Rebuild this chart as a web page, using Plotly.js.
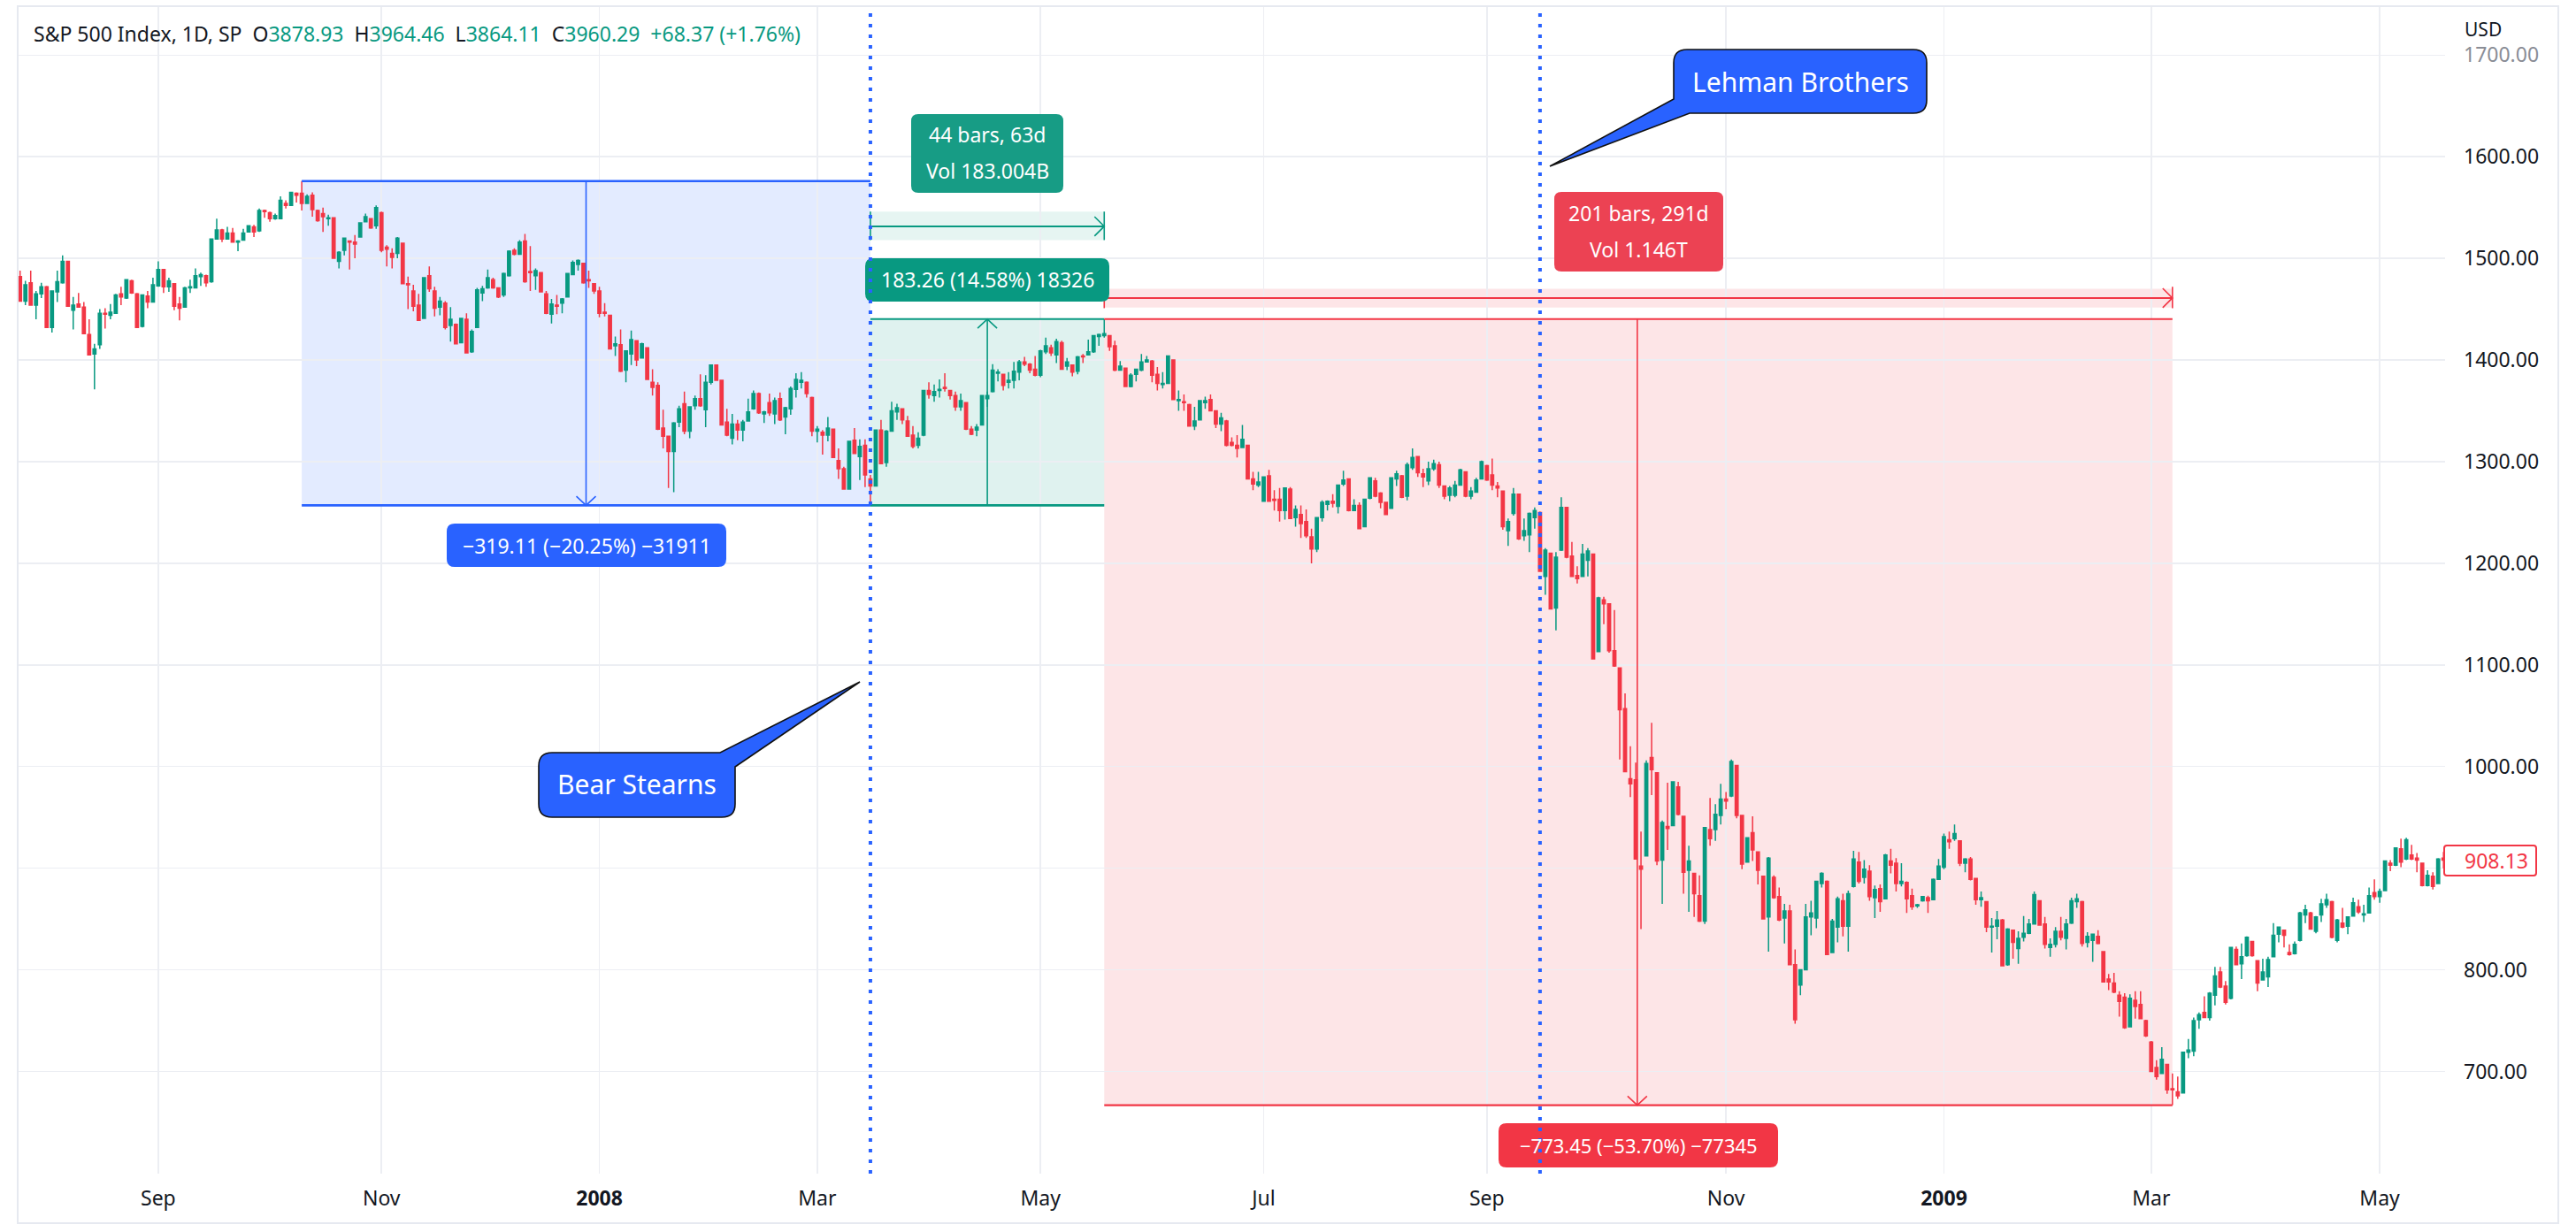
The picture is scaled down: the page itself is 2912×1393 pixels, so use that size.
<!DOCTYPE html>
<html><head><meta charset="utf-8">
<script src="https://cdn.plot.ly/plotly-3.0.1.min.js"></script>
<style>html,body{margin:0;padding:0;background:#fff}#chart{width:2912px;height:1393px}</style>
</head><body><div id="chart"></div>
<script>
const openPrice = [
1482,1458,1476,1454,1465,1472,1432,1467,1476,1497,
1449,1455,1452,1425,1406,1415,1446,1444,1446,1465,
1461,1478,1465,1433,1463,1457,1473,1489,1472,1475,
1455,1452,1471,1471,1482,1483,1477,1519,1528,1519,
1525,1516,1518,1526,1531,1527,1547,1545,1539,1539,
1554,1552,1564,1564,1554,1562,1547,1544,1539,1540,
1497,1508,1517,1516,1521,1536,1539,1532,1545,1511,
1505,1505,1515,1475,1468,1454,1441,1483,1468,1452,
1456,1434,1435,1417,1440,1408,1432,1466,1471,1479,
1471,1464,1483,1508,1504,1517,1487,1483,1486,1465,
1445,1454,1456,1462,1484,1494,1495,1479,1475,1468,
1447,1444,1414,1415,1390,1406,1419,1402,1412,1378,
1375,1333,1325,1310,1339,1357,1330,1355,1362,1351,
1378,1395,1380,1339,1323,1337,1331,1340,1352,1367,
1347,1358,1347,1362,1344,1352,1371,1378,1378,1363,
1330,1329,1326,1332,1301,1293,1273,1321,1305,1316,
1283,1276,1331,1299,1330,1349,1352,1340,1326,1316,
1326,1370,1365,1370,1373,1370,1365,1354,1358,1332,
1331,1336,1362,1369,1387,1386,1378,1380,1388,1398,
1396,1391,1385,1408,1412,1405,1417,1394,1395,1389,
1404,1405,1408,1423,1424,1424,1414,1390,1392,1374,
1386,1390,1398,1399,1386,1376,1377,1400,1360,1359,
1356,1335,1341,1358,1361,1350,1337,1340,1319,1316,
1314,1316,1283,1277,1261,1286,1263,1263,1252,1273,
1245,1248,1241,1226,1214,1245,1258,1261,1256,1278,
1283,1252,1257,1236,1264,1281,1269,1260,1254,1283,
1286,1266,1294,1305,1288,1281,1293,1297,1276,1267,
1267,1277,1290,1266,1270,1283,1296,1287,1276,1271,
1232,1249,1268,1227,1228,1245,1250,1187,1210,1156,
1213,1255,1207,1188,1187,1203,1209,1113,1164,1160,
1114,1097,1057,988,987,902,912,1009,994,908,
941,942,980,951,898,895,873,848,938,938,
952,968,971,1001,952,906,935,916,892,852,
891,872,851,858,805,785,800,852,851,885,
887,817,842,868,843,882,906,891,897,871,
880,870,907,905,885,886,873,863,868,871,
869,889,901,928,929,927,905,909,890,869,
867,842,843,849,805,839,821,832,836,845,
868,845,822,825,838,831,846,867,867,827,
829,833,818,791,787,775,773,744,770,766,
750,729,704,698,707,683,680,679,719,720,
751,758,753,775,798,784,772,820,806,814,
828,809,790,793,813,835,839,817,816,829,
854,856,838,854,864,867,829,846,843,853,
862,854,856,876,872,878,905,903,919,909,
913,910,905,883,892,885,910];
const highPrice = [
1488,1478,1488,1468,1476,1473,1468,1488,1503,1497,
1462,1466,1457,1440,1416,1450,1451,1455,1465,1472,
1479,1479,1466,1464,1468,1481,1497,1489,1481,1475,
1462,1472,1479,1490,1486,1484,1519,1539,1529,1531,
1530,1518,1529,1532,1533,1549,1548,1546,1544,1561,
1557,1565,1565,1576,1563,1565,1548,1550,1543,1540,
1507,1520,1517,1523,1535,1544,1539,1552,1546,1513,
1510,1521,1515,1482,1474,1465,1481,1492,1472,1462,
1458,1452,1436,1441,1446,1430,1471,1473,1489,1481,
1471,1486,1508,1510,1518,1524,1512,1490,1486,1468,
1460,1464,1461,1485,1498,1499,1495,1488,1475,1472,
1456,1444,1423,1430,1409,1429,1419,1417,1412,1391,
1378,1351,1325,1339,1355,1369,1354,1365,1386,1385,
1395,1395,1380,1352,1347,1341,1341,1362,1370,1368,
1350,1367,1363,1368,1354,1374,1387,1388,1379,1364,
1335,1331,1344,1332,1313,1295,1320,1333,1322,1322,
1287,1331,1341,1331,1359,1357,1352,1345,1335,1329,
1370,1378,1376,1381,1387,1370,1369,1367,1358,1335,
1337,1365,1369,1396,1391,1386,1388,1398,1400,1403,
1397,1404,1410,1422,1415,1421,1419,1402,1395,1404,
1406,1420,1424,1426,1440,1424,1419,1399,1392,1387,
1391,1406,1404,1400,1393,1388,1404,1400,1370,1366,
1357,1354,1360,1364,1366,1350,1348,1341,1324,1326,
1336,1316,1290,1290,1285,1292,1272,1274,1274,1275,
1257,1257,1253,1234,1245,1262,1262,1268,1277,1291,
1283,1263,1260,1263,1284,1284,1270,1260,1284,1291,
1287,1299,1313,1305,1293,1300,1302,1300,1276,1276,
1281,1293,1290,1275,1284,1301,1297,1303,1280,1271,
1244,1274,1268,1244,1250,1255,1251,1215,1210,1211,
1265,1255,1221,1197,1219,1215,1209,1167,1167,1160,
1154,1097,1072,1020,1004,936,1006,1043,994,947,
984,985,985,951,922,895,893,940,969,963,
983,975,1007,1001,952,930,951,916,892,911,
893,881,865,864,820,800,865,868,887,896,
888,850,872,875,878,917,916,908,903,883,
884,914,919,910,905,887,880,865,872,873,
890,909,934,936,943,927,910,911,890,877,
867,851,858,850,841,839,838,853,850,877,
868,852,831,842,852,850,871,875,868,837,
835,839,818,796,797,779,777,776,779,779,
751,730,711,724,707,698,695,719,732,753,
758,774,778,803,803,789,822,823,826,833,
828,809,811,813,846,842,839,825,828,857,
864,857,853,870,875,868,850,861,852,871,
869,864,881,889,880,907,908,920,929,930,
923,915,905,898,896,910,916];
const lowPrice = [
1458,1454,1454,1440,1461,1432,1427,1457,1475,1453,
1430,1452,1426,1405,1371,1411,1431,1440,1446,1454,
1460,1465,1432,1432,1451,1457,1472,1466,1467,1449,
1439,1452,1466,1471,1473,1472,1476,1519,1516,1519,
1516,1507,1518,1526,1521,1526,1540,1536,1538,1539,
1549,1552,1555,1547,1554,1541,1536,1526,1532,1500,
1490,1503,1489,1500,1521,1536,1529,1529,1506,1492,
1490,1500,1475,1450,1448,1439,1441,1467,1443,1444,
1430,1418,1416,1417,1407,1407,1432,1458,1470,1470,
1461,1462,1482,1503,1504,1476,1468,1469,1467,1445,
1436,1445,1446,1462,1484,1488,1475,1471,1465,1442,
1443,1411,1404,1388,1378,1395,1394,1402,1381,1365,
1331,1313,1274,1270,1334,1327,1323,1351,1354,1334,
1376,1380,1336,1325,1317,1321,1320,1340,1351,1347,
1338,1345,1337,1340,1327,1346,1363,1372,1363,1325,
1319,1307,1320,1304,1283,1273,1273,1308,1282,1275,
1257,1276,1298,1295,1330,1341,1337,1325,1313,1313,
1325,1362,1359,1363,1369,1361,1350,1350,1331,1326,
1325,1336,1354,1368,1379,1370,1372,1372,1380,1394,
1387,1384,1383,1406,1404,1397,1391,1390,1384,1386,
1397,1405,1407,1414,1422,1409,1389,1390,1374,1373,
1379,1389,1398,1378,1370,1372,1377,1361,1350,1350,
1335,1331,1341,1352,1350,1333,1330,1315,1315,1304,
1314,1283,1272,1275,1261,1261,1252,1241,1243,1244,
1236,1225,1225,1200,1211,1241,1252,1255,1249,1276,
1251,1252,1234,1236,1263,1265,1254,1248,1254,1276,
1264,1262,1292,1285,1275,1277,1291,1274,1263,1261,
1265,1277,1265,1263,1270,1283,1281,1272,1265,1233,
1217,1247,1223,1222,1211,1234,1192,1169,1155,1134,
1212,1205,1187,1180,1187,1187,1106,1113,1140,1112,
1098,1007,995,970,909,840,912,972,903,865,
918,942,952,875,857,852,847,845,922,927,
943,958,970,949,899,906,907,884,850,818,
870,848,826,805,747,775,800,834,841,881,
815,817,827,833,818,881,885,885,868,851,
857,870,895,877,882,856,859,861,867,856,
869,889,899,919,927,902,896,888,864,862,
837,817,830,804,804,811,806,828,835,845,
844,821,813,822,829,820,845,861,823,822,
808,825,788,780,777,754,742,744,752,752,
734,700,692,698,678,667,673,679,713,715,
742,753,750,765,782,766,771,805,791,813,
813,779,790,783,813,827,822,814,815,828,
846,840,836,847,861,831,827,841,835,853,
855,847,856,869,866,878,897,902,901,908,
908,896,882,882,879,885,900];
const closePrice = [
1458,1474,1454,1465,1472,1432,1468,1477,1497,1453,
1454,1452,1426,1405,1411,1446,1445,1447,1464,1462,
1479,1466,1432,1464,1457,1474,1489,1472,1478,1453,
1451,1471,1472,1483,1484,1476,1519,1528,1519,1525,
1516,1517,1525,1532,1526,1547,1546,1539,1542,1557,
1552,1565,1562,1554,1561,1548,1537,1541,1540,1500,
1506,1520,1516,1514,1535,1541,1530,1550,1508,1509,
1501,1520,1475,1474,1453,1439,1481,1470,1451,1458,
1432,1440,1416,1441,1407,1428,1469,1470,1481,1471,
1462,1485,1507,1504,1516,1477,1486,1488,1467,1446,
1455,1453,1460,1485,1496,1498,1476,1478,1468,1446,
1446,1411,1416,1389,1409,1420,1400,1416,1381,1373,
1332,1325,1310,1338,1352,1330,1354,1362,1355,1378,
1395,1380,1336,1326,1337,1331,1339,1349,1367,1348,
1349,1348,1360,1341,1353,1372,1381,1380,1367,1330,
1332,1326,1333,1304,1293,1273,1320,1308,1315,1287,
1276,1331,1298,1330,1350,1353,1341,1325,1315,1323,
1370,1366,1369,1371,1372,1365,1354,1360,1332,1327,
1334,1365,1365,1390,1388,1375,1380,1389,1398,1396,
1390,1385,1409,1414,1407,1418,1391,1398,1388,1403,
1403,1408,1424,1425,1426,1413,1390,1394,1374,1385,
1391,1398,1400,1385,1377,1377,1404,1361,1361,1358,
1335,1340,1360,1360,1350,1337,1343,1316,1316,1313,
1322,1283,1278,1280,1285,1261,1262,1252,1274,1244,
1253,1239,1227,1214,1245,1260,1261,1259,1277,1282,
1252,1257,1234,1263,1284,1266,1260,1248,1284,1288,
1265,1297,1304,1289,1285,1293,1298,1277,1266,1274,
1277,1292,1266,1271,1282,1300,1282,1277,1274,1236,
1241,1268,1224,1232,1249,1252,1192,1213,1155,1206,
1255,1206,1187,1185,1209,1212,1106,1166,1160,1114,
1099,1056,995,983,909,899,1003,997,907,945,
939,985,953,896,907,875,848,940,929,953,
968,966,1005,952,904,930,918,898,850,910,
871,849,858,805,751,800,852,856,887,895,
815,848,870,843,875,909,887,899,872,879,
867,913,903,885,887,870,862,864,872,868,
889,902,931,926,934,905,909,889,869,871,
842,843,849,804,840,827,831,836,845,874,
844,825,825,838,832,845,868,870,826,833,
835,826,788,788,778,769,743,772,764,752,
735,700,695,712,682,682,676,719,721,750,
756,753,777,794,783,768,822,805,813,832,
814,787,798,810,834,842,834,815,825,856,
859,840,852,865,869,832,849,842,852,866,
857,855,873,872,877,907,903,920,906,928,
909,908,883,893,882,909,908];

const monthTickBars = [26,68,109,150,192,234,276,321,362,401,444];
const monthTickLabels = ['Sep','Nov','<b>2008</b>','Mar','May','Jul','Sep','Nov','<b>2009</b>','Mar','May'];
const priceTicks = [700,800,900,1000,1100,1200,1300,1400,1500,1600,1700];
const priceTickLabels = ['700.00','800.00','900.00','1000.00','1100.00','1200.00','1300.00','1400.00','1500.00','1600.00','<span style="color:#8a8d96">1700.00</span>'];

const GREEN='#089981', RED='#f23645', BLUE='#2962ff', INK='#131722';
const FONT='"Noto Sans", sans-serif';
const W=2912,H=1393,ML=20,MR=148,MT=7,MB=66,PW=W-ML-MR,PH=H-MT-MB;
const px=v=>(v-ML)/PW, py=v=>1-(v-MT)/PH;

const xs=openPrice.map((_,i)=>i);
const bearBar=160, peakBar=53, reboundBar=204, troughBar=405, lehmanBar=286;
const peak=1576.09, low08=1256.98, rebound=1440.24, trough=666.79;
const hb=1.83, hp=9; // arrow head half-width (bars), length (price)

const shapes=[];
const rect=(x0,x1,y0,y1,fill)=>shapes.push({type:'rect',xref:'x',yref:'y',x0,x1,y0,y1,fillcolor:fill,line:{width:0},layer:'below'});
const line=(x0,y0,x1,y1,c,w)=>shapes.push({type:'line',xref:'x',yref:'y',x0,y0,x1,y1,line:{color:c,width:w},layer:'above'});
const poly=(pts,c,w)=>shapes.push({type:'path',xref:'x',yref:'y',path:'M'+pts.map(p=>p.join(',')).join('L'),line:{color:c,width:w},layer:'above'});
const P=(x,y)=>px(x)+','+py(y);

function rr(x0,y0,x1,y1,r){
  return 'M'+P(x0+r,y0)+'L'+P(x1-r,y0)+'Q'+P(x1,y0)+' '+P(x1,y0+r)
   +'L'+P(x1,y1-r)+'Q'+P(x1,y1)+' '+P(x1-r,y1)+'L'+P(x0+r,y1)+'Q'+P(x0,y1)+' '+P(x0,y1-r)
   +'L'+P(x0,y0+r)+'Q'+P(x0,y0)+' '+P(x0+r,y0)+'Z';
}
const box=(x0,y0,x1,y1,r,fill,lc,lw)=>shapes.push({type:'path',xref:'paper',yref:'paper',path:rr(x0,y0,x1,y1,r),fillcolor:fill,line:{color:lc||fill,width:lw||0},layer:'above'});

// fills
rect(peakBar,bearBar,low08,peak,'rgba(41,98,255,0.13)');
rect(bearBar,reboundBar,low08,rebound,'rgba(8,153,129,0.13)');
rect(reboundBar,troughBar,trough,rebound,'rgba(242,54,69,0.13)');
rect(bearBar,reboundBar,1518,1546,'rgba(8,153,129,0.10)');
rect(reboundBar,troughBar,1451.5,1470,'rgba(242,54,69,0.13)');

// blue range
line(peakBar,peak,bearBar,peak,BLUE,2.4);
line(peakBar,low08,bearBar,low08,BLUE,2.8);
line(106.5,peak,106.5,low08,BLUE,1.6);
poly([[106.5-hb,low08+hp],[106.5,low08],[106.5+hb,low08+hp]],BLUE,1.6);
// green range
line(bearBar,low08,reboundBar,low08,GREEN,2.8);
line(bearBar,rebound,reboundBar,rebound,GREEN,2);
line(182,low08,182,rebound,GREEN,1.6);
poly([[182-hb,rebound-hp],[182,rebound],[182+hb,rebound-hp]],GREEN,1.6);
line(bearBar,1531.5,reboundBar,1531.5,GREEN,2);
line(bearBar,1518,bearBar,1546,GREEN,1.6);
line(reboundBar,1518,reboundBar,1546,GREEN,1.6);
poly([[reboundBar-hb,1541],[reboundBar,1531.5],[reboundBar-hb,1522]],GREEN,1.6);
// red range
line(reboundBar,rebound,troughBar,rebound,RED,2);
line(reboundBar,trough,troughBar,trough,RED,2.4);
line(304.3,rebound,304.3,trough,RED,1.6);
poly([[304.3-hb,trough+hp],[304.3,trough],[304.3+hb,trough+hp]],RED,1.6);
line(reboundBar,1461,troughBar,1461,RED,2);
line(reboundBar,1451,reboundBar,1472,RED,1.6);
line(troughBar,1451,troughBar,1472,RED,1.6);
poly([[troughBar-hb,1470.5],[troughBar,1461],[troughBar-hb,1451.5]],RED,1.6);

// pill labels
box(1030,129,1202,218,8,'#179c85');
box(978,292,1254,341,9,GREEN);
box(505,592,821,641,9,BLUE);
box(1757,217,1948,307,8,'#ec4253');
box(1694,1270,2010,1320,9,RED);

// event lines
[bearBar,lehmanBar].forEach(b=>shapes.push({type:'line',xref:'x',yref:'paper',x0:b,x1:b,y0:0,y1:1,line:{color:BLUE,width:4,dash:'4px,8px'},layer:'above'}));

// callouts
const R=15;
shapes.push({type:'path',xref:'paper',yref:'paper',fillcolor:BLUE,line:{color:'#111',width:1.6},layer:'above',
  path:'M'+P(609+R,851)+'L'+P(814,851)+'L'+P(972,771)+'L'+P(831,867)+'L'+P(831,924-R)+'Q'+P(831,924)+' '+P(831-R,924)+'L'+P(609+R,924)+'Q'+P(609,924)+' '+P(609,924-R)+'L'+P(609,851+R)+'Q'+P(609,851)+' '+P(609+R,851)+'Z'});
shapes.push({type:'path',xref:'paper',yref:'paper',fillcolor:BLUE,line:{color:'#111',width:1.6},layer:'above',
  path:'M'+P(1892+R,56)+'L'+P(2178-R,56)+'Q'+P(2178,56)+' '+P(2178,56+R)+'L'+P(2178,128-R)+'Q'+P(2178,128)+' '+P(2178-R,128)+'L'+P(1910,128)+'L'+P(1752,188)+'L'+P(1892,112)+'L'+P(1892,56+R)+'Q'+P(1892,56)+' '+P(1892+R,56)+'Z'});

// last price tag and outer frame
box(2763,956,2867,990,3,'#ffffff',RED,2);
shapes.push({type:'rect',xref:'paper',yref:'paper',x0:0,x1:px(2892),y0:py(1383),y1:1,line:{color:'#e6e9f0',width:2},layer:'above'});

const ann=(x,y,text,size,color,anchor)=>({xref:'paper',yref:'paper',x:px(x),y:py(y),text,showarrow:false,xanchor:anchor||'center',yanchor:'middle',align:'center',font:{family:FONT,size,color}});
const gs=t=>'<span style="color:'+GREEN+'">'+t+'</span>';
const sp='\u00a0\u00a0';
const annotations=[
 ann(36,38,'S&P 500 Index, 1D, SP'+sp+'O'+gs('3878.93')+sp+'H'+gs('3964.46')+sp+'L'+gs('3864.11')+sp+'C'+gs('3960.29')+sp+gs('+68.37 (+1.76%)'),23,INK,'left'),
 ann(2784,33,'USD',21,INK,'left'),
 ann(1116,152,'44 bars, 63d',23,'#fff'),
 ann(1116,193,'Vol 183.004B',23,'#fff'),
 ann(1116,316,'183.26 (14.58%) 18326',23,'#fff'),
 ann(663,617,'\u2212319.11 (\u221220.25%) \u221231911',23,'#fff'),
 ann(1852,241,'201 bars, 291d',23,'#fff'),
 ann(1852,282,'Vol 1.146T',23,'#fff'),
 ann(1852,1295,'\u2212773.45 (\u221253.70%) \u221277345',22,'#fff'),
 ann(720,886,'Bear Stearns',30,'#fff'),
 ann(2035,92,'Lehman Brothers',30,'#fff'),
 ann(2784,973,'908.13',23,RED,'left')
];

const trace={type:'candlestick',x:xs,open:openPrice,high:highPrice,low:lowPrice,close:closePrice,
  increasing:{line:{color:GREEN,width:1.5},fillcolor:GREEN},
  decreasing:{line:{color:RED,width:1.5},fillcolor:RED},
  whiskerwidth:0,hoverinfo:'skip',showlegend:false};

const layout={
  width:W,height:H,margin:{l:ML,r:MR,t:MT,b:MB,pad:0},
  paper_bgcolor:'#fff',plot_bgcolor:'#fff',showlegend:false,boxgap:0.22,
  font:{family:FONT,color:INK},
  xaxis:{type:'linear',range:[-0.45,456.3],tickmode:'array',tickvals:monthTickBars,ticktext:monthTickLabels,
    tickfont:{family:FONT,size:23,color:INK},ticks:'',ticklabelstandoff:12,showgrid:true,gridcolor:'#eceef3',gridwidth:1.5,
    zeroline:false,showline:false,rangeslider:{visible:false},fixedrange:true},
  yaxis:{side:'right',type:'linear',range:[599.5,1748.1],tickmode:'array',tickvals:priceTicks,ticktext:priceTickLabels,
    tickfont:{family:FONT,size:23,color:INK},ticks:'',ticklabelstandoff:20,showgrid:true,gridcolor:'#eceef3',gridwidth:1.5,
    zeroline:false,showline:false,fixedrange:true},
  shapes,annotations
};
Plotly.newPlot('chart',[trace],layout,{displayModeBar:false,staticPlot:true});
</script></body></html>
